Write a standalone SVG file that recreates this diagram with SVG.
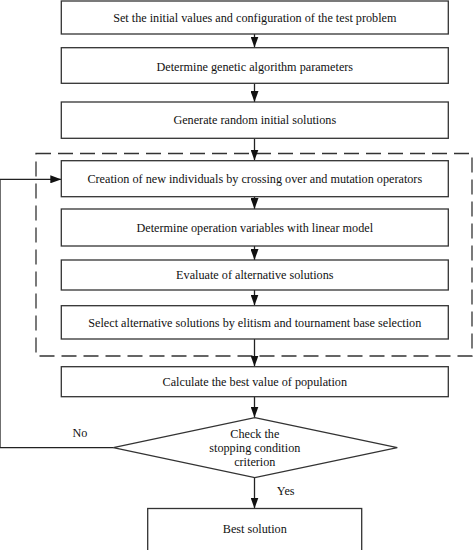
<svg xmlns="http://www.w3.org/2000/svg" width="474" height="550" viewBox="0 0 474 550">
<style>
.box{fill:#fff;stroke:#333;stroke-width:1.3}
.t{font-family:"Liberation Serif","Times New Roman",serif;font-size:12.2px;fill:#111;text-anchor:middle}
.c{stroke:#222;stroke-width:1.3;fill:none}
.dash{fill:none;stroke:#333;stroke-width:1.3;stroke-dasharray:15 7}
</style>
<defs>
<marker id="ah" viewBox="0 0 11 8" refX="11" refY="4" markerWidth="11" markerHeight="8" markerUnits="userSpaceOnUse" orient="auto">
<path d="M0,0 L11,4 L0,8 z" fill="#111"/>
</marker>
</defs>
<rect width="474" height="550" fill="#fff"/>
<g id="loop-frame"><rect class="dash" x="36" y="153.5" width="436" height="202.5"/></g>
<g id="connectors">
<line class="c" x1="254.5" y1="34" x2="254.5" y2="47.5" marker-end="url(#ah)"/>
<line class="c" x1="254.5" y1="83.5" x2="254.5" y2="102" marker-end="url(#ah)"/>
<line class="c" x1="254.5" y1="138.5" x2="254.5" y2="160.5" marker-end="url(#ah)"/>
<line class="c" x1="254.5" y1="196.5" x2="254.5" y2="209" marker-end="url(#ah)"/>
<line class="c" x1="254.5" y1="246" x2="254.5" y2="260" marker-end="url(#ah)"/>
<line class="c" x1="254.5" y1="290" x2="254.5" y2="305.5" marker-end="url(#ah)"/>
<line class="c" x1="254.5" y1="339" x2="254.5" y2="366.5" marker-end="url(#ah)"/>
<line class="c" x1="254.5" y1="396.5" x2="254.5" y2="417.5" marker-end="url(#ah)"/>
<line class="c" x1="254.5" y1="477.5" x2="254.5" y2="508.5" marker-end="url(#ah)"/>
<polyline class="c" points="113.5,447.7 0,447.7 0,179.3 61.3,179.3" marker-end="url(#ah)"/>
<text class="t" x="80" y="436.5">No</text>
<text class="t" x="285.7" y="494.8">Yes</text>
</g>
<g id="n1"><rect class="box" x="61.3" y="1" width="387" height="33"/><text class="t" x="254.8" y="21.5">Set the initial values and configuration of the test problem</text></g>
<g id="n2"><rect class="box" x="61.3" y="47.7" width="387" height="35.6"/><text class="t" x="254.8" y="70.7">Determine genetic algorithm parameters</text></g>
<g id="n3"><rect class="box" x="61.3" y="102" width="387" height="36.3"/><text class="t" x="254.8" y="124">Generate random initial solutions</text></g>
<g id="n4"><rect class="box" x="61.3" y="160.7" width="387" height="36"/><text class="t" x="254.8" y="183.3">Creation of new individuals by crossing over and mutation operators</text></g>
<g id="n5"><rect class="box" x="61.3" y="209" width="387" height="37"/><text class="t" x="254.8" y="232.3">Determine operation variables with linear model</text></g>
<g id="n6"><rect class="box" x="61.3" y="260" width="387" height="30"/><text class="t" x="254.8" y="279">Evaluate of alternative solutions</text></g>
<g id="n7"><rect class="box" x="61.3" y="305.7" width="387" height="33.3"/><text class="t" x="254.8" y="326.7">Select alternative solutions by elitism and tournament base selection</text></g>
<g id="n8"><rect class="box" x="61.3" y="366.7" width="387" height="30"/><text class="t" x="254.8" y="386.3">Calculate the best value of population</text></g>
<g id="n9"><polygon class="box" points="254.8,417.7 397.3,447.7 254.8,477.7 113.3,447.7"/>
<text class="t" x="254.8" y="438.3">Check the</text><text class="t" x="254.8" y="452.3">stopping condition</text><text class="t" x="254.8" y="466">criterion</text></g>
<g id="n10"><rect class="box" x="147.7" y="508.5" width="214" height="45"/><text class="t" x="254.8" y="533.3">Best solution</text></g>
</svg>
